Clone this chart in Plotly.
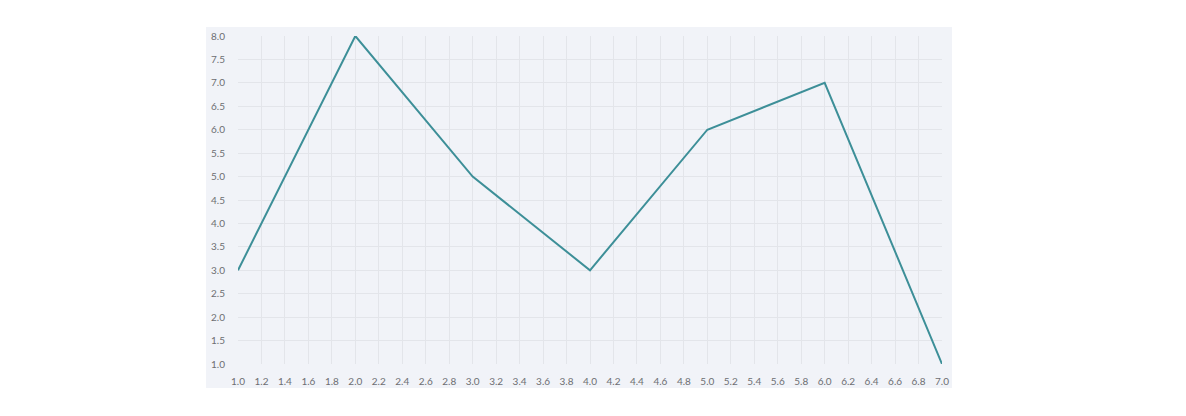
import plotly.graph_objects as go

x_values = [1, 2, 3, 4, 5, 6, 7]
y_values = [3, 8, 5, 3, 6, 7, 1]

fig = go.Figure()
fig.add_trace(go.Scatter(x=x_values, y=y_values, mode='lines',
                         line=dict(color='#3d8f98', width=2)))

# grey panel behind plot + tick labels
fig.add_shape(type='rect', xref='paper', yref='paper',
              x0=-0.0455, x1=1.0142, y0=-0.073, y1=1.0274,
              fillcolor='#f1f3f8', line_width=0, layer='below')

fig.update_layout(
    width=1186, height=416,
    margin=dict(l=230, r=252, t=28, b=60),
    paper_bgcolor='white', plot_bgcolor='#f1f3f8',
    showlegend=False,
    font=dict(family='Lato', size=10, color='#6d6e72'),
)
fig.update_xaxes(range=[1, 7], dtick=0.2, tickformat='.1f',
                 showgrid=True, gridcolor='#e3e5ea', gridwidth=1,
                 zeroline=False, showline=False, ticks='', ticklabelstandoff=10)
fig.update_yaxes(range=[1, 8], dtick=0.5, tickformat='.1f',
                 showgrid=True, gridcolor='#e3e5ea', gridwidth=1,
                 zeroline=False, showline=False, ticks='', ticklabelstandoff=12)

fig.write_html("out.html")
